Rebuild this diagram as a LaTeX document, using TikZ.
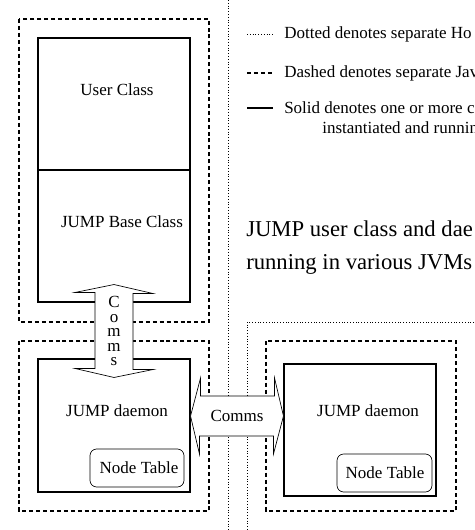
\documentclass[tikz,border=0pt]{standalone}
\usepackage{fontspec}
\setmainfont{Liberation Serif}
\usetikzlibrary{calc}

\tikzset{
  host/.style={line width=0.6pt, dash pattern=on 0.6pt off 1.5pt},
  jvm/.style={line width=0.8pt, dash pattern=on 3pt off 2.2pt},
  classbox/.style={draw, line width=0.8pt, minimum width=114pt},
  tablebox/.style={draw, rounded corners=5pt, line width=0.5pt, minimum height=28.5pt},
  comms/.style={draw, fill=white, line width=0.5pt},
  lbl/.style={font=\fontsize{12.75}{15}\selectfont},
  big/.style={font=\fontsize{17}{20}\selectfont}
}

\begin{document}
\begin{tikzpicture}[x=0.75pt, y=-0.75pt]
    \useasboundingbox (0,0) rectangle (474,530);

    % hosts
    \draw[host] (228,0) -- (228,530);
    \draw[host] (474,322) -- (247,322) -- (247,530);

    % JVMs
    \draw[jvm] (19,19) rectangle (209,322);
    \draw[jvm] (19,341) rectangle (209,511);
    \draw[jvm] (266,341) rectangle (456,511);

    % classes
    \node[classbox, minimum height=99pt] (user) at (114,104) {};
    \node[classbox, minimum height=99pt] (base) at (114,236) {};
    \node[classbox, minimum height=99.75pt] (daemonl) at (114,425.5) {};
    \node[classbox, minimum height=99pt] (daemonr) at (360,430) {};
    \node[tablebox, minimum width=70.5pt] (tablel) at (137,468) {};
    \node[tablebox, minimum width=71.25pt] (tabler) at (384.5,473) {};

    \node[lbl] (userlbl) at (117,90) {User Class};
    \node[lbl] (baselbl) at (122,222) {JUMP Base Class};
    \node[lbl] (daemonllbl) at (117,411) {JUMP daemon};
    \node[lbl] (daemonrlbl) at (368,411) {JUMP daemon};
    \node[lbl] (tablellbl) at (139,468) {Node Table};
    \node[lbl] (tablerlbl) at (385,473) {Node Table};

    % comms
    \coordinate (vtop) at ($(base.south)+(0,-18)$);
    \coordinate (vbot) at ($(daemonl.north)+(0,19)$);
    \coordinate (hl) at ($(daemonl.east)+(0,-9.5)$);
    \coordinate (hr) at (daemonr.west |- hl);

    \draw[comms] (vtop) -- ++(39,9) -- ++(-20,0) -- ++(0,76) -- ++(20,0) -- (vbot)
        -- ++(-39,-9) -- ++(20,0) -- ++(0,-76) -- ++(-20,0) -- cycle;
    \draw[comms] (hl) -- ++(10,-38) -- ++(0,18) -- ++(74,0) -- ++(0,-18) -- (hr)
        -- ++(-10,38) -- ++(0,-18) -- ++(-74,0) -- ++(0,18) -- cycle;
    \foreach \ch [count=\i] in {C,o,m,m,s}
        \node[lbl, anchor=base, inner sep=0] (vcomms\i) at (114,{293+14.5*\i}) {\ch};
    \node[lbl] (hcomms) at (237,416) {Comms};

    % key
    \draw[host] (247,34) -- (273,34);
    \draw[jvm] (247,73) -- (273,73);
    \draw[line width=0.8pt] (247,108) -- (273,108);
    \node[lbl, anchor=west, inner sep=0] (keyhost) at (284,34) {Dotted denotes separate Ho};
    \node[lbl, anchor=west, inner sep=0] (keyjvm) at (284,73) {Dashed denotes separate Jav};
    \node[lbl, anchor=west, inner sep=0] (keyclass) at (284,108) {Solid denotes one or more c};
    \node[lbl, anchor=west, inner sep=0] (keyclass2) at (322,128) {instantiated and runnin};

    \node[big, anchor=west, inner sep=0] (title1) at (246,229) {JUMP user class and dae};
    \node[big, anchor=west, inner sep=0] (title2) at (246,264) {running in various JVMs};
\end{tikzpicture}
\end{document}
